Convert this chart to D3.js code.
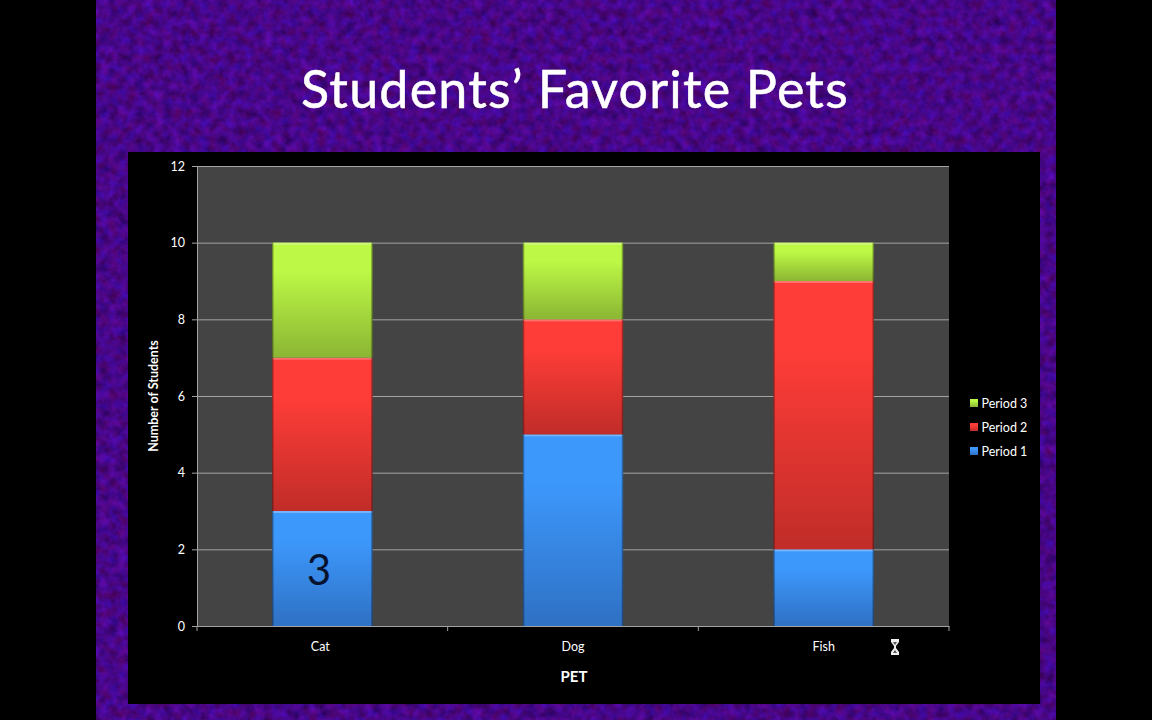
<!DOCTYPE html>
<html><head><meta charset="utf-8">
<script src="https://cdn.jsdelivr.net/npm/d3@7"></script>
<style>html,body{margin:0;padding:0;background:#000;overflow:hidden}svg{display:block}text{font-family:Lato,"Open Sans",sans-serif}</style>
</head><body><svg id="c" width="1152" height="720"></svg>
<script>
const pets = ["Cat","Dog","Fish"];
const periods = ["Period 1","Period 2","Period 3"];
const period1 = [3,5,2];
const period2 = [4,3,7];
const period3 = [3,2,1];
const yTicks = [0,2,4,6,8,10,12];
const titleText = "Students’ Favorite Pets";
const xTitle = "PET";
const yTitle = "Number of Students";
const colorsTop = ["#3d98fc","#ff3d38","#bcf845"];
const colorsBottom = ["#2f72c6","#c32d29","#8db834"];

const svg = d3.select("#c");
const defs = svg.append("defs");
const W=1152,H=720;
const M={l:197,r:949,t:166,b:626};

// slide texture
const f = defs.append("filter").attr("id","tex").attr("x",0).attr("y",0).attr("width","100%").attr("height","100%")
  .attr("color-interpolation-filters","sRGB");
f.append("feTurbulence").attr("type","fractalNoise").attr("baseFrequency","0.11").attr("numOctaves",3).attr("seed",7);
f.append("feColorMatrix").attr("type","matrix").attr("values",
 "0.12 0.22 0 0 0.11  0.05 0 0 0 0.0  0.5 0 0 0 0.28  0 0 0 0 1");

svg.append("rect").attr("width",W).attr("height",H).attr("fill","#000");
svg.append("rect").attr("x",96).attr("y",0).attr("width",960).attr("height",H).attr("fill","#4a0d85");
svg.append("rect").attr("x",96).attr("y",0).attr("width",960).attr("height",H).attr("filter","url(#tex)");
svg.append("rect").attr("x",128).attr("y",152).attr("width",912).attr("height",552).attr("fill","#000");

svg.append("text").attr("x",575).attr("y",108).attr("text-anchor","middle").attr("fill","#fff")
  .attr("stroke","#fff").attr("stroke-width",0.5)
  .attr("font-size",52).attr("letter-spacing",1.2).text(titleText);

// scales
const x = d3.scaleBand().domain(pets).range([M.l,M.r]).paddingInner(0.6).paddingOuter(0.3);
const y = d3.scaleLinear().domain([0,12]).range([M.b,M.t]);

svg.append("rect").attr("x",M.l).attr("y",M.t).attr("width",M.r-M.l).attr("height",M.b-M.t).attr("fill","#444444");

// gridlines
svg.append("g").selectAll("line").data(yTicks.filter(d=>d>0)).join("line")
  .attr("x1",M.l).attr("x2",M.r).attr("y1",d=>y(d)+.5).attr("y2",d=>y(d)+.5)
  .attr("stroke","#a3a3a3").attr("stroke-width",1);

// gradients
periods.forEach((p,i)=>{
  const g=defs.append("linearGradient").attr("id","g"+i).attr("x1",0).attr("x2",0).attr("y1",0).attr("y2",1);
  g.append("stop").attr("offset",0).attr("stop-color",colorsTop[i]);
  g.append("stop").attr("offset",.25).attr("stop-color",colorsTop[i]);
  g.append("stop").attr("offset",.97).attr("stop-color",colorsBottom[i]);
});
const side=defs.append("linearGradient").attr("id","side").attr("x1",0).attr("x2",1).attr("y1",0).attr("y2",0);
[[0,.5],[.02,.0],[.98,.0],[1,.5]].forEach(s=>side.append("stop").attr("offset",s[0]).attr("stop-color","#000").attr("stop-opacity",s[1]));

// stacks
const table = pets.map((pet,i)=>({pet,"Period 1":period1[i],"Period 2":period2[i],"Period 3":period3[i]}));
const stack = d3.stack().keys(periods)(table);
const layers = svg.append("g").selectAll("g").data(stack).join("g");
const segs = layers.selectAll("g").data((s,i)=>s.map(d=>({d,i}))).join("g");
segs.append("rect").attr("x",o=>x(o.d.data.pet)).attr("width",x.bandwidth())
  .attr("y",o=>y(o.d[1])).attr("height",o=>y(o.d[0])-y(o.d[1]))
  .attr("fill",o=>`url(#g${o.i})`);
segs.append("rect").attr("x",o=>x(o.d.data.pet)).attr("width",x.bandwidth())
  .attr("y",o=>y(o.d[1])).attr("height",o=>y(o.d[0])-y(o.d[1]))
  .attr("fill","url(#side)");
segs.append("rect").attr("x",o=>x(o.d.data.pet)+1).attr("width",x.bandwidth()-2)
  .attr("y",o=>y(o.d[1])).attr("height",2).attr("fill","#fff").attr("opacity",.28);

// axes
const ax=svg.append("g").attr("transform",`translate(0,${M.b})`)
  .call(d3.axisBottom(x).tickSize(0).tickPadding(16));
ax.select(".domain").attr("stroke","#a3a3a3");
ax.selectAll("text").attr("fill","#fff").attr("font-size",12.5).attr("font-family","Lato")
  .attr("dx",d=>d==="Cat"?-2:0);
const xTickPos=[M.l,...pets.map(p=>x(p)+x.bandwidth()/2+x.step()/2)];
svg.append("g").selectAll("line").data(xTickPos).join("line")
  .attr("x1",d=>d).attr("x2",d=>d).attr("y1",M.b).attr("y2",M.b+5).attr("stroke","#a3a3a3");

const ay=svg.append("g").attr("transform",`translate(${M.l},0)`)
  .call(d3.axisLeft(y).tickValues(yTicks).tickSize(5).tickPadding(7));
ay.select(".domain").attr("stroke","#a3a3a3");
ay.selectAll("line").attr("stroke","#a3a3a3");
ay.selectAll("text").attr("fill","#fff").attr("font-size",12.5).attr("font-family","Lato");

svg.append("text").attr("transform","translate(158,396) rotate(-90)").attr("text-anchor","middle")
  .attr("fill","#fff").attr("font-size",12.5).attr("font-weight",700).text(yTitle);
svg.append("text").attr("x",574).attr("y",682).attr("text-anchor","middle")
  .attr("fill","#fff").attr("font-size",15).attr("font-weight",700).text(xTitle);

// legend
const lg=svg.append("g").selectAll("g").data(periods.slice().reverse()).join("g")
  .attr("transform",(d,i)=>`translate(970,${403+i*24})`);
lg.append("rect").attr("x",0).attr("y",-4).attr("width",8).attr("height",8)
  .attr("fill",d=>`url(#g${periods.indexOf(d)})`);
lg.append("text").attr("x",11.5).attr("y",4.5).attr("fill","#fff").attr("font-size",12.5).text(d=>d);

// annotation
svg.append("text").attr("x",319).attr("y",585).attr("text-anchor","middle").attr("fill","#07122e")
  .attr("font-size",42).text("3");

// hourglass cursor
const hg=svg.append("g").attr("transform","translate(895,647)");
hg.append("path").attr("d",d3.line()([[-4,-8],[4,-8],[4,-5],[1,-1],[1,1],[4,5],[4,8],[-4,8],[-4,5],[-1,1],[-1,-1],[-4,-5]])+"Z")
  .attr("fill","#eee");
hg.append("path").attr("d",d3.line()([[-2,-5],[2,-5],[0,-2]])+"Z").attr("fill","#555");
hg.append("path").attr("d",d3.line()([[-2,6],[2,6],[0,3]])+"Z").attr("fill","#555");
</script></body></html>
